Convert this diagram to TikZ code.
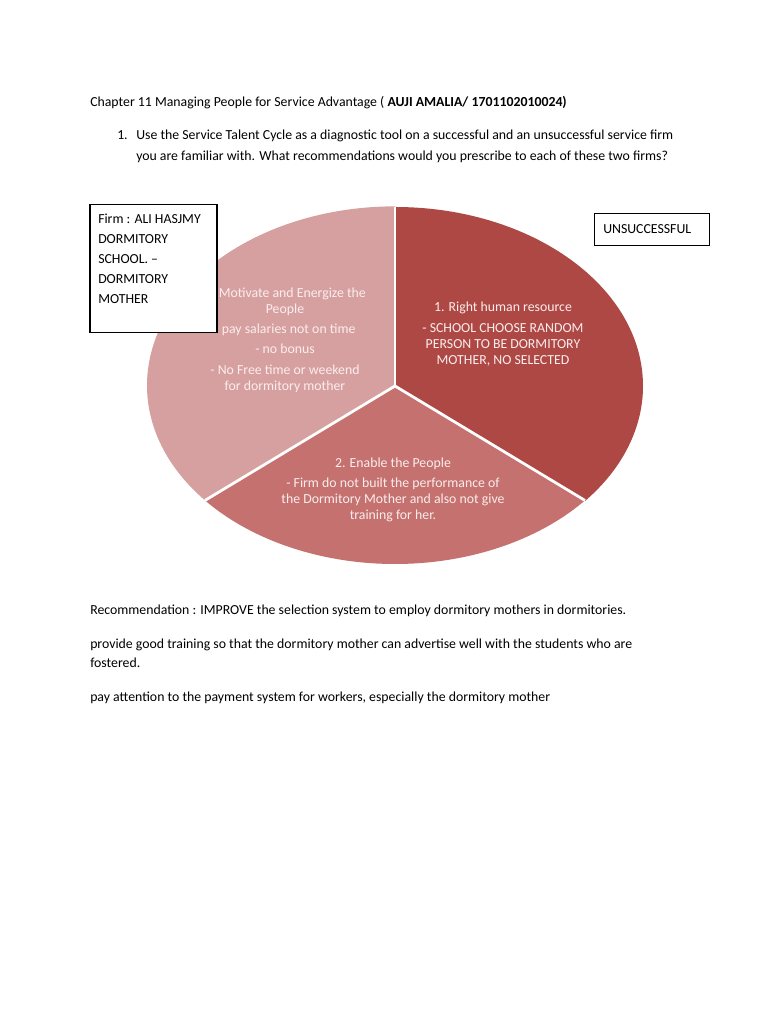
\documentclass[tikz,border=0pt]{standalone}
\usepackage{fontspec}
\setmainfont{Carlito}
\definecolor{sliceone}{HTML}{AE4845}
\definecolor{slicetwo}{HTML}{C4716F}
\definecolor{slicethree}{HTML}{D7A0A0}
\definecolor{slicefont}{HTML}{FBEDED}
\begin{document}
\begin{tikzpicture}[x=0.797pt, y=0.797pt,
  txt/.style={anchor=base west, inner sep=0pt, font=\fontsize{11}{13}\selectfont},
  slicetxt/.style={align=center, inner sep=0pt, text=slicefont, font=\fontsize{11}{12.7}\selectfont},
  firmbox/.style={draw, line width=0.8pt, fill=white}]
\fill[white] (0,0) rectangle (768,1024);
\useasboundingbox (0,0) rectangle (768,1024);

\node[txt] (head) at (90,917) {Chapter 11 Managing People for Service Advantage ( \textbf{AUJI AMALIA/ 1701102010024)}};
\node[txt] (qnum) at (117,884) {1.};
\node[txt] (q1) at (136,884) {Use the Service Talent Cycle as a diagnostic tool on a successful and an unsuccessful service firm};
\node[txt] (q2) at (136,863) {you are familiar with. What recommendations would you prescribe to each of these two firms?};

\coordinate (c) at (395,638);
\coordinate (top) at ([shift={(0,179)}]c);
\coordinate (rgt) at ([shift={({248*cos(-40)},{178*sin(-40)})}]c);
\coordinate (lft) at ([shift={({248*cos(220)},{178*sin(220)})}]c);
\fill[sliceone] (c) -- (top) arc[start angle=90, end angle=-40, x radius=248, y radius=179] -- cycle;
\fill[slicetwo] (c) -- (rgt) arc[start angle=-40, end angle=-140, x radius=248, y radius=178] -- cycle;
\fill[slicethree] (c) -- (lft) arc[start angle=220, end angle=90, x radius=248, y radius=179] -- cycle;
\draw[white, line width=2.2pt] (c) -- (top);
\draw[white, line width=2.2pt] (c) -- (rgt);
\draw[white, line width=2.2pt] (c) -- (lft);

\node[slicetxt] (s1) at (503,690) {1. Right human resource\\[3.5pt]- SCHOOL CHOOSE RANDOM\\PERSON TO BE DORMITORY\\MOTHER, NO SELECTED};
\node[slicetxt] (s2) at (393,534) {2. Enable the People\\[3.5pt]- Firm do not built the performance of\\the Dormitory Mother and also not give\\training for her.};
\node[slicetxt] (s3) at (285,684) {\phantom{3. }Motivate and Energize the\\People\\[3.5pt]\phantom{- }pay salaries not on time\\[3.5pt]- no bonus\\[3.5pt]- No Free time or weekend\\for dormitory mother};

\draw[firmbox] (90,691) rectangle (217,819);
\node[txt] (f1) at (98,800) {Firm : ALI HASJMY};
\node[txt] (f2) at (98,780) {DORMITORY};
\node[txt] (f3) at (98,760) {SCHOOL. –};
\node[txt] (f4) at (98,740) {DORMITORY};
\node[txt] (f5) at (98,720) {MOTHER};

\draw[firmbox] (594,778) rectangle (709,810);
\node[txt] (uns) at (603,790) {UNSUCCESSFUL};

\node[txt] (r1) at (90,409) {Recommendation : IMPROVE the selection system to employ dormitory mothers in dormitories.};
\node[txt] (r2) at (90,375) {provide good training so that the dormitory mother can advertise well with the students who are};
\node[txt] (r3) at (90,356) {fostered.};
\node[txt] (r4) at (90,322) {pay attention to the payment system for workers, especially the dormitory mother};
\end{tikzpicture}
\end{document}
